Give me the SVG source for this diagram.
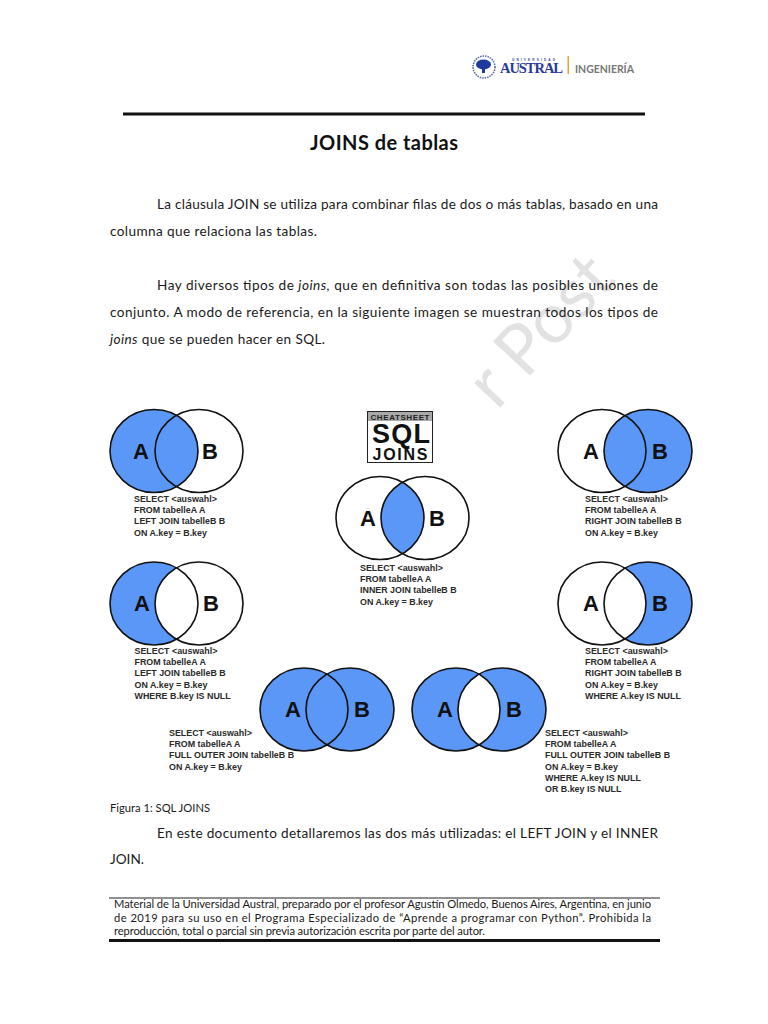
<svg xmlns="http://www.w3.org/2000/svg" width="768" height="1024" viewBox="0 0 768 1024">
<style>
.b{font-family:Lato,"Liberation Sans",sans-serif;font-size:13.6px;fill:#1a1a1a}
.f{font-family:Lato,"Liberation Sans",sans-serif;font-size:11.2px;fill:#1a1a1a}
.s{font-family:"Liberation Sans",Arial,sans-serif;font-size:8.9px;font-weight:bold;fill:#2a2a2a}
.l{font-family:"Liberation Sans",Arial,sans-serif;font-size:22px;font-weight:bold;fill:#111;text-anchor:middle}
.o{fill:none;stroke:#111;stroke-width:1.6}
.w{fill:#fff;stroke:none}
.u{fill:#5b97f7;stroke:none}
</style>
<defs>
<ellipse id="c" cx="0" cy="0" rx="44" ry="41.5"/>
<clipPath id="clipA"><ellipse cx="0" cy="0" rx="44" ry="41.5"/></clipPath>
</defs>
<rect width="768" height="1024" fill="#fff"/>
<g id="watermark"><text transform="translate(497 411) rotate(-47)" font-family="Lato,'Open Sans',sans-serif" font-size="70" fill="#e2e2e2" xml:space="preserve">r Post</text></g>
<g id="logo">
<circle cx="484" cy="67" r="11" fill="none" stroke="#5a6aa8" stroke-width="1.6" stroke-dasharray="1.5 1"/>
<ellipse cx="483.500" cy="64.500" rx="7.500" ry="5" fill="#1e3a9c"/>
<rect x="482" y="66" width="3" height="7" fill="#1e3a9c"/>
<text x="512" y="61" font-family="Liberation Sans,sans-serif" font-size="3.200" font-weight="bold" fill="#3a4a98" textLength="43">UNIVERSIDAD</text>
<text x="500" y="73" font-family="Liberation Serif,serif" font-size="14.500" font-weight="bold" fill="#2a3a9a" textLength="63">AUSTRAL</text>
<rect x="567.500" y="56" width="1.500" height="18" fill="#f0a030"/>
<text x="575" y="73" font-family="Lato,sans-serif" font-size="10.500" font-weight="bold" fill="#777" textLength="59">INGENIERÍA</text>
</g>
<g id="page-text">
<rect x="123" y="112.500" width="522" height="3" fill="#111"/>
<text x="384" y="149.500" text-anchor="middle" font-family="Lato,sans-serif" font-size="20" font-weight="bold" fill="#111" textLength="148">JOINS de tablas</text>
<text class="b" x="157" y="209" textLength="501">La cláusula JOIN se utiliza para combinar filas de dos o más tablas, basado en una</text>
<text class="b" x="110" y="236" textLength="207">columna que relaciona las tablas.</text>
<text class="b" x="157" y="290" textLength="501">Hay diversos tipos de <tspan font-style="italic">joins,</tspan> que en definitiva son todas las posibles uniones de</text>
<text class="b" x="110" y="317" textLength="548">conjunto. A modo de referencia, en la siguiente imagen se muestran todos los tipos de</text>
<text class="b" x="110" y="344" textLength="215"><tspan font-style="italic">joins</tspan> que se pueden hacer en SQL.</text>
<text class="f" x="110" y="812" font-size="10.500" textLength="100">Figura 1: SQL JOINS</text>
<text class="b" x="157" y="838" textLength="501">En este documento detallaremos las dos más utilizadas: el LEFT JOIN y el INNER</text>
<text class="b" x="110" y="864" textLength="34">JOIN.</text>
</g>
<g id="cheatsheet">
<rect x="367.500" y="411.500" width="65" height="51" fill="#fff" stroke="#222"/>
<rect x="368" y="412" width="64" height="9" fill="#a9a9a9"/>
<text x="400" y="420" text-anchor="middle" font-family="Liberation Sans,sans-serif" font-size="8" font-weight="bold" fill="#222" textLength="59">CHEATSHEET</text>
<text x="401" y="443" text-anchor="middle" font-family="Liberation Sans,sans-serif" font-size="27" font-weight="bold" fill="#111" textLength="58">SQL</text>
<text x="400" y="460" text-anchor="middle" font-family="Liberation Sans,sans-serif" font-size="16" font-weight="bold" fill="#111" textLength="55">JOINS</text>
</g>
<g id="left-join">
<use href="#c" x="154" y="451" class="u"/>
<use href="#c" x="199" y="451" class="o"/><use href="#c" x="154" y="451" class="o"/>
<text class="l" x="141" y="459">A</text><text class="l" x="210" y="459">B</text>
<text class="s"><tspan x="134" y="502">SELECT &lt;auswahl&gt;</tspan><tspan x="134" y="513">FROM tabelleA A</tspan><tspan x="134" y="524">LEFT JOIN tabelleB B</tspan><tspan x="134" y="536">ON A.key = B.key</tspan></text>
</g>
<g id="left-exclusive">
<use href="#c" x="154" y="603.500" class="u"/>
<use href="#c" x="199" y="603.500" class="w"/>
<use href="#c" x="199" y="603.500" class="o"/><use href="#c" x="154" y="603.500" class="o"/>
<text class="l" x="142" y="611">A</text><text class="l" x="211" y="611">B</text>
<text class="s"><tspan x="134.500" y="654">SELECT &lt;auswahl&gt;</tspan><tspan x="134.500" y="665">FROM tabelleA A</tspan><tspan x="134.500" y="676">LEFT JOIN tabelleB B</tspan><tspan x="134.500" y="688">ON A.key = B.key</tspan><tspan x="134.500" y="699">WHERE B.key IS NULL</tspan></text>
</g>
<g id="inner-join">
<g transform="translate(380 518)"><g clip-path="url(#clipA)"><use href="#c" x="45" y="0" class="u"/></g></g>
<use href="#c" x="425" y="518" class="o"/><use href="#c" x="380" y="518" class="o"/>
<text class="l" x="368" y="526">A</text><text class="l" x="437" y="526">B</text>
<text class="s"><tspan x="360" y="571">SELECT &lt;auswahl&gt;</tspan><tspan x="360" y="582">FROM tabelleA A</tspan><tspan x="360" y="593">INNER JOIN tabelleB B</tspan><tspan x="360" y="605">ON A.key = B.key</tspan></text>
</g>
<g id="right-join">
<use href="#c" x="648" y="451" class="u"/>
<use href="#c" x="602" y="451" class="o"/><use href="#c" x="648" y="451" class="o"/>
<text class="l" x="591" y="459">A</text><text class="l" x="660" y="459">B</text>
<text class="s"><tspan x="585" y="502">SELECT &lt;auswahl&gt;</tspan><tspan x="585" y="513">FROM tabelleA A</tspan><tspan x="585" y="524">RIGHT JOIN tabelleB B</tspan><tspan x="585" y="536">ON A.key = B.key</tspan></text>
</g>
<g id="right-exclusive">
<use href="#c" x="648" y="603.500" class="u"/>
<use href="#c" x="602" y="603.500" class="w"/>
<use href="#c" x="602" y="603.500" class="o"/><use href="#c" x="648" y="603.500" class="o"/>
<text class="l" x="591" y="611">A</text><text class="l" x="660" y="611">B</text>
<text class="s"><tspan x="585" y="654">SELECT &lt;auswahl&gt;</tspan><tspan x="585" y="665">FROM tabelleA A</tspan><tspan x="585" y="676">RIGHT JOIN tabelleB B</tspan><tspan x="585" y="688">ON A.key = B.key</tspan><tspan x="585" y="699">WHERE A.key IS NULL</tspan></text>
</g>
<g id="full-join">
<use href="#c" x="304" y="709.500" class="u"/><use href="#c" x="350" y="709.500" class="u"/>
<use href="#c" x="350" y="709.500" class="o"/><use href="#c" x="304" y="709.500" class="o"/>
<text class="l" x="293" y="717">A</text><text class="l" x="362" y="717">B</text>
<text class="s"><tspan x="169" y="736">SELECT &lt;auswahl&gt;</tspan><tspan x="169" y="747">FROM tabelleA A</tspan><tspan x="169" y="758">FULL OUTER JOIN tabelleB B</tspan><tspan x="169" y="770">ON A.key = B.key</tspan></text>
</g>
<g id="full-exclusive">
<use href="#c" x="456" y="709.500" class="u"/><use href="#c" x="502" y="709.500" class="u"/>
<g transform="translate(456 709.500)"><g clip-path="url(#clipA)"><use href="#c" x="46" y="0" class="w"/></g></g>
<use href="#c" x="502" y="709.500" class="o"/><use href="#c" x="456" y="709.500" class="o"/>
<text class="l" x="445" y="717">A</text><text class="l" x="514" y="717">B</text>
<text class="s"><tspan x="545" y="736">SELECT &lt;auswahl&gt;</tspan><tspan x="545" y="747">FROM tabelleA A</tspan><tspan x="545" y="758">FULL OUTER JOIN tabelleB B</tspan><tspan x="545" y="770">ON A.key = B.key</tspan><tspan x="545" y="781">WHERE A.key IS NULL</tspan><tspan x="545" y="792">OR B.key IS NULL</tspan></text>
</g>
<g id="footer">
<rect x="109" y="897.500" width="551" height="1" fill="#222"/>
<text class="f" x="114" y="908" textLength="537">Material de la Universidad Austral, preparado por el profesor Agustín Olmedo, Buenos Aires, Argentina, en junio</text>
<text class="f" x="114" y="921.500" textLength="537">de 2019 para su uso en el Programa Especializado de “Aprende a programar con Python”. Prohibida la</text>
<text class="f" x="114" y="935" textLength="371">reproducción, total o parcial sin previa autorización escrita por parte del autor.</text>
<rect x="109" y="939" width="551" height="3" fill="#111"/>
</g>
</svg>
